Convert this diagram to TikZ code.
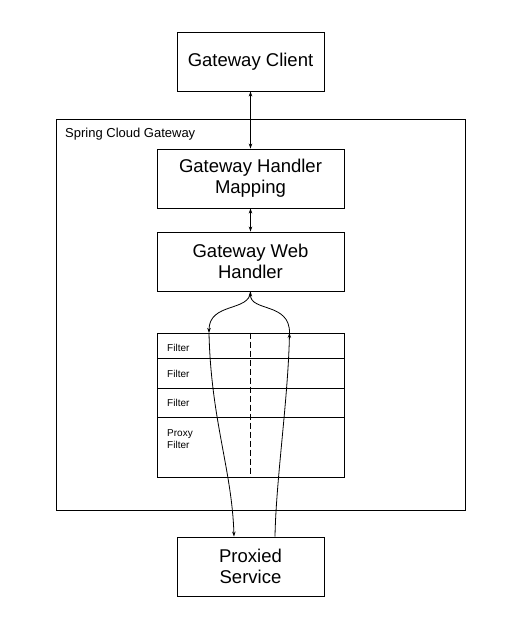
\documentclass[tikz,border=0pt]{standalone}
\usepackage{fontspec}
\setmainfont{Liberation Sans}
\usetikzlibrary{arrows.meta}
\begin{document}
\begin{tikzpicture}[x=1pt,y=-1pt,
  box/.style={draw,line width=0.9pt,font=\fontsize{18.5}{21}\selectfont,align=center,inner sep=0pt},
  rowbox/.style={draw,line width=0.9pt,inner sep=0pt},
  lbl/.style={font=\fontsize{10}{12.5}\selectfont,align=left,anchor=north west,inner sep=0pt},
  conn/.style={line width=0.8pt},
  tip/.style={-{Stealth[length=5pt,width=3.5pt]}},
  both/.style={{Stealth[length=5pt,width=3.5pt]}-{Stealth[length=5pt,width=3.5pt]}}]
\useasboundingbox (0,0) rectangle (532,625);
% outer container
\node[rowbox,minimum width=409pt,minimum height=391pt] (scg) at (260.5,314.5) {};
\node[font=\fontsize{13}{15}\selectfont,anchor=west,inner sep=0pt] (scgl) at (65,134) {Spring Cloud Gateway};
% boxes
\node[box,minimum width=147pt,minimum height=59pt] (client) at (250.5,61.5) {Gateway Client};
\node[box,minimum width=187pt,minimum height=59pt] (hm) at (250.5,178.5) {Gateway Handler\\Mapping};
\node[box,minimum width=187pt,minimum height=59pt] (wh) at (250.5,261.5) {Gateway Web\\Handler};
\node[box,minimum width=147pt,minimum height=59pt] (ps) at (250.5,566.5) {Proxied\\Service};
% filter rows
\node[rowbox,minimum width=187pt,minimum height=25pt] (f1) at (250.5,345.5) {};
\node[rowbox,minimum width=187pt,minimum height=30pt] (f2) at (250.5,373) {};
\node[rowbox,minimum width=187pt,minimum height=29pt] (f3) at (250.5,402.5) {};
\node[rowbox,minimum width=187pt,minimum height=60pt] (f4) at (250.5,447) {};
\node[lbl] (l1) at (167,344) {Filter};
\node[lbl] (l2) at (167,370) {Filter};
\node[lbl] (l3) at (167,399.5) {Filter};
\node[lbl] (l4) at (167,429) {Proxy\\Filter};
\draw[conn,dashed,dash pattern=on 6pt off 3pt] (f1.north) -- (f4.south);
% connectors
\draw[conn,both] (client.south) -- (hm.north);
\draw[conn,both] (hm.south) -- (wh.north);
\coordinate (lin) at (209,333);
\coordinate (rin) at (289.5,333);
\draw[conn,tip] (wh.south) .. controls (250,312) and (209,302) .. (lin);
\draw[conn,tip] (lin) .. controls (211,420) and (232,470) .. (ps.north west -| 234,0);
\draw[conn,tip] (ps.north west -| 275,0) .. controls (276,480) and (288,400) .. (rin);
\draw[conn,tip] (rin) .. controls (290,302) and (250,312) .. (wh.south);
\end{tikzpicture}
\end{document}
